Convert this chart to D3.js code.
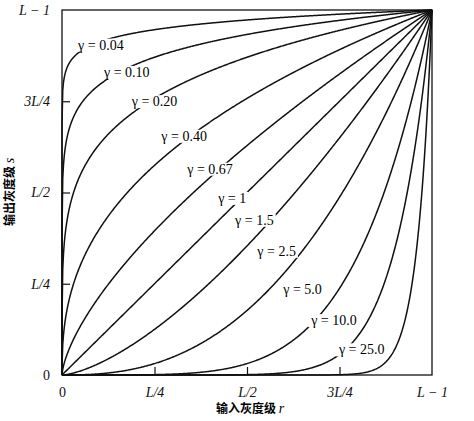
<!DOCTYPE html>
<html><head><meta charset="utf-8">
<script src="https://cdn.jsdelivr.net/npm/d3@7"></script>
<style>body{margin:0;background:#fff}</style>
</head><body><svg id="c" width="474" height="421"></svg>
<script>
const SERIF = "'Liberation Serif','Times New Roman','DejaVu Serif',serif";
const gammas = [0.04, 0.10, 0.20, 0.40, 0.67, 1, 1.5, 2.5, 5.0, 10.0, 25.0];
const gammaLabels = ['0.04','0.10','0.20','0.40','0.67','1','1.5','2.5','5.0','10.0','25.0'];
// label anchor (r, s) in data units 0..1
const labelR = [0.105, 0.175, 0.25, 0.33, 0.40, 0.46, 0.52, 0.58, 0.65, 0.735, 0.81];
const labelS = [0.905, 0.83, 0.75, 0.655, 0.565, 0.485, 0.425, 0.34, 0.235, 0.15, 0.07];
const tickVals = [0, 0.25, 0.5, 0.75, 1];
const tickLabels = ['0', 'L/4', 'L/2', '3L/4', 'L − 1'];

const svg = d3.select('#c');
const x = d3.scaleLinear().domain([0, 1]).range([62, 432]);
const y = d3.scaleLinear().domain([0, 1]).range([375, 10]);

const line = d3.line().x(d => x(d[0])).y(d => y(d[1]));
const samples = d3.range(0, 1.00001, 0.002).concat([0.0001, 0.00001]).sort((a, b) => a - b);
svg.append('g').selectAll('path').data(gammas).join('path')
  .attr('fill', 'none').attr('stroke', '#111').attr('stroke-width', 1.5)
  .attr('d', g => line(samples.map(r => [r, Math.pow(r, g)])));

const lab = svg.append('g').selectAll('g').data(gammas).join('g')
  .attr('transform', (g, i) => `translate(${x(labelR[i])},${y(labelS[i])})`);
lab.append('text').attr('text-anchor', 'middle').attr('dy', '0.35em')
  .style('font-family', SERIF).attr('font-size', 14).text((g, i) => `γ = ${gammaLabels[i]}`)
  .each(function () {
    const b = this.getBBox();
    d3.select(this.parentNode).insert('rect', 'text')
      .attr('x', b.x - 2).attr('y', b.y + 1).attr('width', b.width + 4).attr('height', b.height - 2)
      .attr('fill', '#fff');
  });

svg.append('rect').attr('x', x(0)).attr('y', y(1)).attr('width', x(1) - x(0)).attr('height', y(0) - y(1))
  .attr('fill', 'none').attr('stroke', '#111').attr('stroke-width', 1.3);

const xAxis = d3.axisBottom(x).tickValues(tickVals).tickFormat((d, i) => tickLabels[i]).tickSizeInner(-8).tickSizeOuter(0).tickPadding(12);
const gx = svg.append('g').attr('transform', `translate(0,${y(0)})`).call(xAxis);
const yAxis = d3.axisLeft(y).tickValues(tickVals).tickFormat((d, i) => tickLabels[i]).tickSizeInner(-8).tickSizeOuter(0).tickPadding(12);
const gy = svg.append('g').attr('transform', `translate(${x(0)},0)`).call(yAxis);
[gx, gy].forEach(g => {
  g.select('.domain').remove();
  g.selectAll('line').attr('stroke', '#111').attr('stroke-width', 1.2);
  g.selectAll('text').attr('font-size', 14).attr('font-style', 'italic').attr('fill', '#111')
    .style('font-family', SERIF);
});
gx.selectAll('.tick').filter(d => d === 0 || d === 1).select('line').remove();
gy.selectAll('.tick').filter(d => d === 0 || d === 1).select('line').remove();
gx.selectAll('.tick').filter(d => d === 0).select('text').attr('font-style', 'normal');
gy.selectAll('.tick').filter(d => d === 0).select('text').attr('font-style', 'normal');

svg.append('text').attr('x', 250).attr('y', 413).attr('text-anchor', 'middle').attr('font-size', 12)
  .attr('font-weight', 'bold').style('font-family', '"Noto Sans CJK SC",sans-serif')
  .text('输入灰度级 ').append('tspan').attr('font-style', 'italic').attr('font-weight', 'normal')
  .style('font-family', SERIF).attr('font-size', 14).text('r');
svg.append('text').attr('transform', 'translate(14,192) rotate(-90)').attr('text-anchor', 'middle').attr('font-size', 12)
  .attr('font-weight', 'bold').style('font-family', '"Noto Sans CJK SC",sans-serif')
  .text('输出灰度级 ').append('tspan').attr('font-style', 'italic').attr('font-weight', 'normal')
  .style('font-family', SERIF).attr('font-size', 14).text('s');
</script></body></html>
